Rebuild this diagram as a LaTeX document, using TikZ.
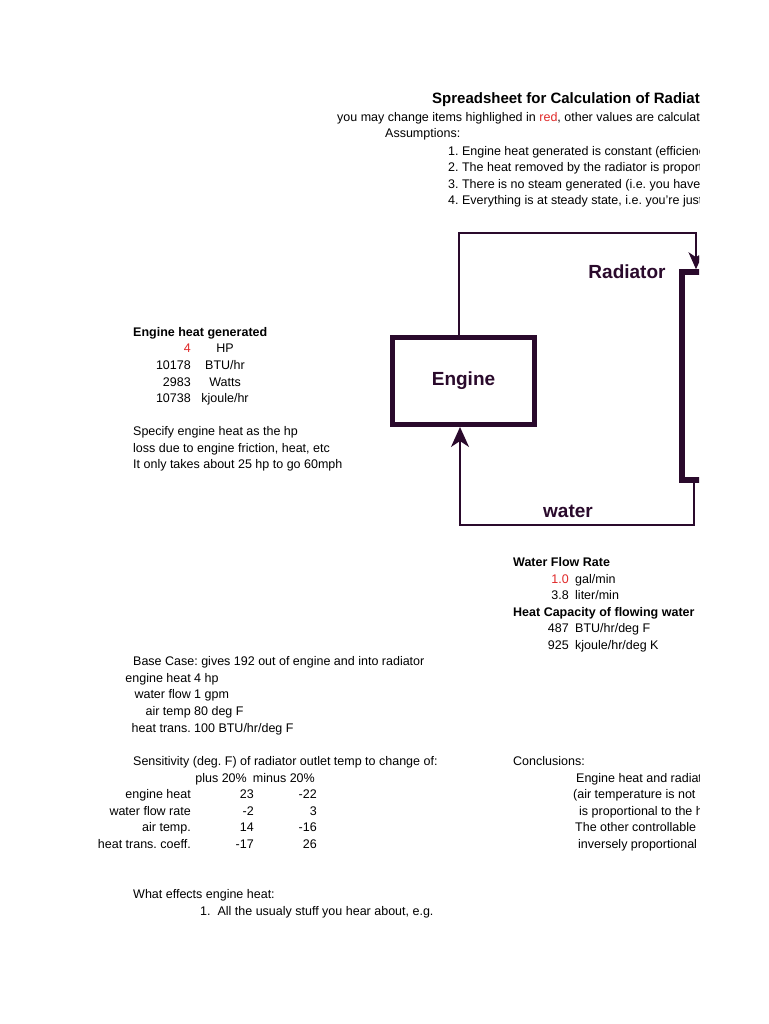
\documentclass[tikz,border=0pt]{standalone}
\usepackage{fontspec}
\setmainfont{Liberation Sans}
\usetikzlibrary{arrows.meta}
\definecolor{loop}{HTML}{2A0A2C}
\definecolor{sheetred}{HTML}{E02828}
\tikzset{
  cell/.style={anchor=base west, inner sep=0pt, font=\fontsize{12.5}{15}\selectfont},
  rcell/.style={cell, anchor=base east},
  ccell/.style={cell, anchor=base},
  head/.style={cell, font=\fontsize{12.5}{15}\selectfont\bfseries},
  hot/.style={text=sheetred},
  block/.style={draw=loop, line width=5pt, inner sep=0pt},
  tag/.style={inner sep=0pt, text=loop, font=\fontsize{19}{22}\selectfont\bfseries},
  flow/.style={draw=loop, line width=2pt}
}
\frenchspacing
\begin{document}
\begin{tikzpicture}[x=1pt, y=-1pt]
  \useasboundingbox[fill=white] (0,0) rectangle (768,1024);
  \begin{scope}
    \clip (0,0) rectangle (699,1024);

    % Title and assumptions
    \node[head, font=\fontsize{15}{18}\selectfont\bfseries] (title) at (432,104) {Spreadsheet for Calculation of Radiator};
    \node[cell] (hint) at (337,122) {you may change items highlighed in \textcolor{sheetred}{red}, other values are calculated};
    \node[cell] (assume) at (385,138) {Assumptions:};
    \node[cell] (as1) at (448,156) {1. Engine heat generated is constant (efficiency};
    \node[cell] (as2) at (448,172) {2. The heat removed by the radiator is proportional};
    \node[cell] (as3) at (448,189) {3. There is no steam generated (i.e. you have};
    \node[cell] (as4) at (448,205) {4. Everything is at steady state, i.e. you're just};

    % Engine heat generated
    \node[head] (heathead) at (133,336) {Engine heat generated};
    \node[rcell, hot] (hpval) at (191,352) {4};
    \node[ccell] (hpunit) at (225,352) {HP};
    \node[rcell] (btuval) at (191,369) {10178};
    \node[ccell] (btuunit) at (225,369) {BTU/hr};
    \node[rcell] (wval) at (191,386) {2983};
    \node[ccell] (wunit) at (225,386) {Watts};
    \node[rcell] (kjval) at (191,402) {10738};
    \node[ccell] (kjunit) at (225,402) {kjoule/hr};
    \node[cell] (spec1) at (133,435) {Specify engine heat as the hp};
    \node[cell] (spec2) at (133,452) {loss due to engine friction, heat, etc};
    \node[cell] (spec3) at (133,468) {It only takes about 25 hp to go 60mph};

    % Water flow and heat capacity
    \node[head] (flowhead) at (513,566) {Water Flow Rate};
    \node[rcell, hot] (galval) at (569,583) {1.0};
    \node[cell] (galunit) at (575,583) {gal/min};
    \node[rcell] (litval) at (569,599) {3.8};
    \node[cell] (litunit) at (575,599) {liter/min};
    \node[head] (caphead) at (513,616) {Heat Capacity of flowing water};
    \node[rcell] (capval) at (569,632) {487};
    \node[cell] (capunit) at (575,632) {BTU/hr/deg F};
    \node[rcell] (capkval) at (569,649) {925};
    \node[cell] (capkunit) at (575,649) {kjoule/hr/deg K};

    % Base case
    \node[cell] (base) at (133,665) {Base Case: gives 192 out of engine and into radiator};
    \node[rcell] (b1) at (191,682) {engine heat};
    \node[cell] (b1v) at (194,682) {4 hp};
    \node[rcell] (b2) at (191,698) {water flow};
    \node[cell] (b2v) at (194,698) {1 gpm};
    \node[rcell] (b3) at (191,715) {air temp};
    \node[cell] (b3v) at (194,715) {80 deg F};
    \node[rcell] (b4) at (191,732) {heat trans.};
    \node[cell] (b4v) at (194,732) {100 BTU/hr/deg F};

    % Sensitivity table
    \node[cell] (sens) at (133,765) {Sensitivity (deg. F) of radiator outlet temp to change of:};
    \node[rcell] (plus) at (247,782) {plus 20\%};
    \node[rcell] (minus) at (315,782) {minus 20\%};
    \node[rcell] (s1) at (191,798) {engine heat};
    \node[rcell] (s1p) at (254,798) {23};
    \node[rcell] (s1m) at (317,798) {-22};
    \node[rcell] (s2) at (191,815) {water flow rate};
    \node[rcell] (s2p) at (254,815) {-2};
    \node[rcell] (s2m) at (317,815) {3};
    \node[rcell] (s3) at (191,831) {air temp.};
    \node[rcell] (s3p) at (254,831) {14};
    \node[rcell] (s3m) at (317,831) {-16};
    \node[rcell] (s4) at (191,848) {heat trans. coeff.};
    \node[rcell] (s4p) at (254,848) {-17};
    \node[rcell] (s4m) at (317,848) {26};

    % Conclusions
    \node[cell] (concl) at (513,765) {Conclusions:};
    \node[cell] (c1) at (576,782) {Engine heat and radiator};
    \node[cell] (c2) at (573,798) {(air temperature is not};
    \node[cell] (c3) at (579,815) {is proportional to the heat};
    \node[cell] (c4) at (575,831) {The other controllable};
    \node[cell] (c5) at (578,848) {inversely proportional};

    % What effects engine heat
    \node[cell] (effects) at (133,898) {What effects engine heat:};
    \node[cell] (eff1) at (200,915) {1.\ \ All the usualy stuff you hear about, e.g.};

    % Cooling loop
    \node[block, minimum width=142pt, minimum height=87pt, tag] (engine) at (463.5,381) {Engine};
    \node[block, line width=5.5pt, minimum width=60pt, minimum height=208pt] (radiator) at (712,376) {};
    \node[tag] (radlabel) at (627,272) {Radiator};
    \node[tag] (waterlabel) at (568,511) {water};
    \coordinate (up) at (459,233);
    \coordinate (over) at (696,233);
    \coordinate (down) at (694,525);
    \coordinate (back) at (460,525);
    \draw[flow, -{Stealth[length=17pt, width=15pt, inset=5pt]}] (engine.north -| up) -- (up) -- (over) -- (radiator.north -| over);
    \draw[flow, -{Stealth[length=20pt, width=18pt, inset=6pt]}] (radiator.south -| down) -- (down) -- (back) -- (engine.south -| back);
  \end{scope}
\end{tikzpicture}
\end{document}
